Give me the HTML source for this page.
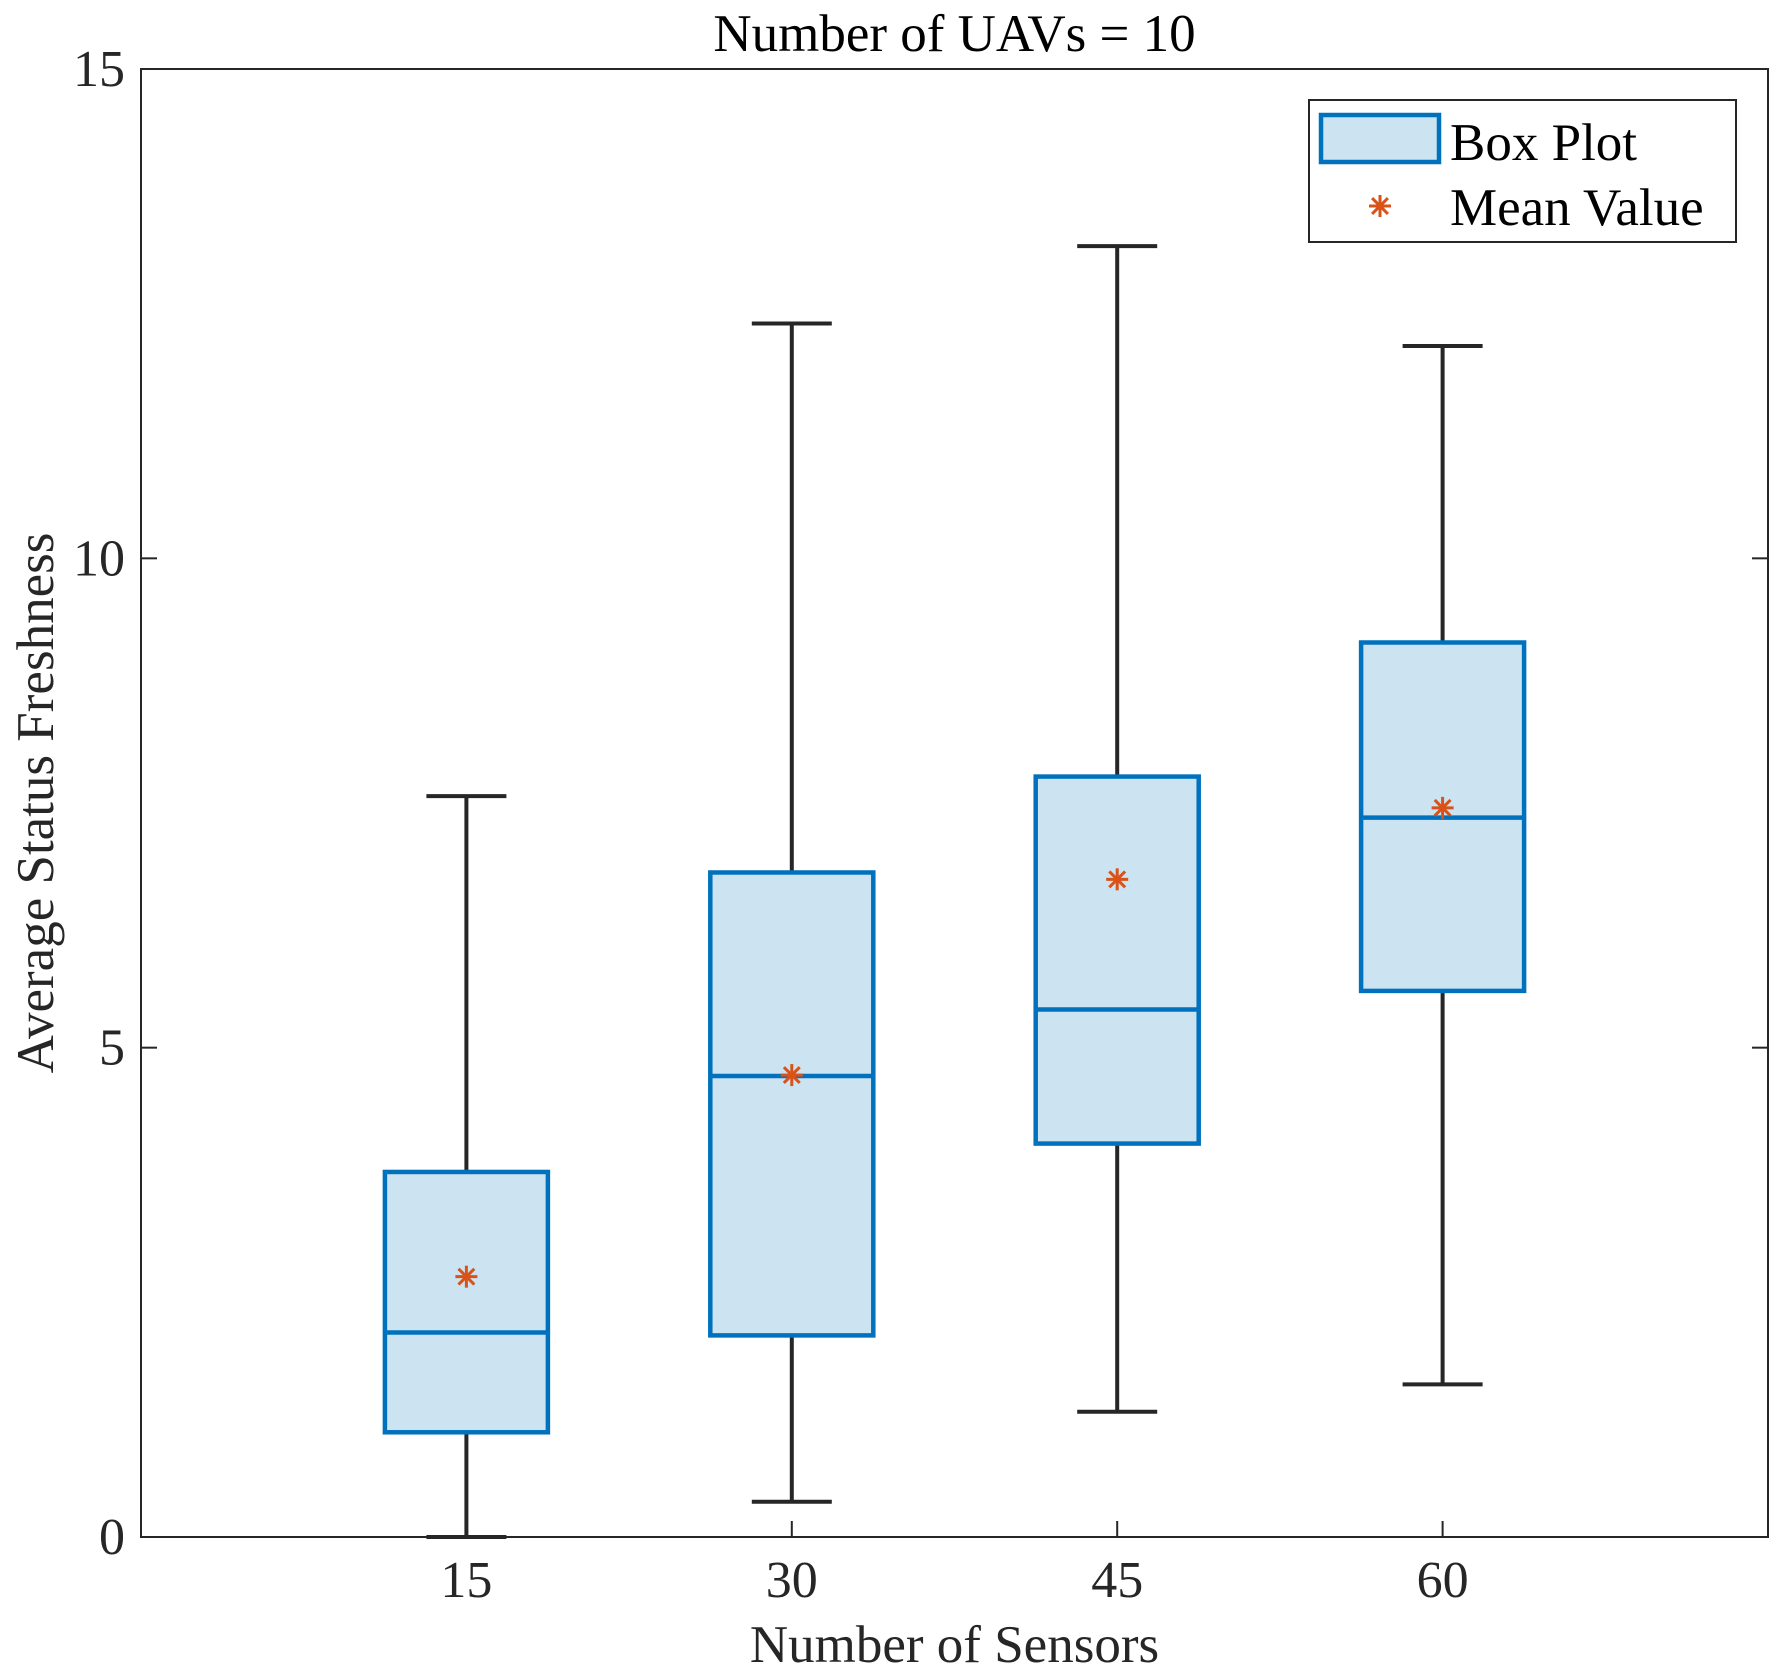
<!DOCTYPE html>
<html><head><meta charset="utf-8"><style>
body{margin:0;background:#fff}
svg{display:block;font-family:"Liberation Serif","Times New Roman",serif}
</style></head><body>
<svg id="chart" width="1790" height="1678" viewBox="0 0 1790 1678" xmlns="http://www.w3.org/2000/svg">
<rect width="1790" height="1678" fill="#fff"/>
<g id="plot"></g>
</svg>
<script>
const categories = ["15","30","45","60"];
const whiskerHigh = [7.57,12.40,13.19,12.17];
const q3Values = [3.73,6.79,7.77,9.14];
const medianValues = [2.09,4.71,5.39,7.35];
const q1Values = [1.07,2.06,4.02,5.58];
const whiskerLow = [0,0.36,1.28,1.56];
const meanValues = [2.66,4.72,6.72,7.45];
const yTicks = [0,5,10,15];

const L=141,R=1768,T=69,B=1537;
const sx=i=>L+(i+1)*(R-L)/5;
const sy=v=>B-(v/15)*(B-T);
const NS="http://www.w3.org/2000/svg";
const g=document.getElementById('plot');
function mk(tag,attrs,parent){const e=document.createElementNS(NS,tag);for(const k in attrs)e.setAttribute(k,attrs[k]);(parent||g).appendChild(e);return e;}
function star(cx,cy,r){
  const s=mk('g',{stroke:'#D95319','stroke-width':3});
  mk('line',{x1:cx-r,x2:cx+r,y1:cy,y2:cy},s);
  mk('line',{x1:cx,x2:cx,y1:cy-r,y2:cy+r},s);
  const d=r*0.72;
  mk('line',{x1:cx-d,x2:cx+d,y1:cy-d,y2:cy+d},s);
  mk('line',{x1:cx-d,x2:cx+d,y1:cy+d,y2:cy-d},s);
  return s;
}

let ax=mk('rect',{x:L,y:T,width:R-L,height:B-T,fill:'none',stroke:'#262626','stroke-width':2});



yTicks.forEach(v=>{
  const y=sy(v);
  let t=mk('line',{x1:L,x2:L+16,y1:y,y2:y,stroke:'#262626','stroke-width':2});
  
  
  let t2=mk('line',{x1:R-16,x2:R,y1:y,y2:y,stroke:'#262626','stroke-width':2});
  
  
  let tx=mk('text',{x:L-16,y:y+17,'text-anchor':'end','font-size':52,fill:'#262626'});
  tx.textContent=v;
  
  
});

categories.forEach((c,i)=>{
  const x=sx(i);
  let t=mk('line',{x1:x,x2:x,y1:B,y2:B-16,stroke:'#262626','stroke-width':2});
  
  
  let tx=mk('text',{x:x,y:1597,'text-anchor':'middle','font-size':52,fill:'#262626'});
  tx.textContent=c;
  
  

  const hw=81.5, cw=40;
  let w1=mk('line',{x1:x,x2:x,y1:sy(whiskerHigh[i]),y2:sy(q3Values[i]),stroke:'#262626','stroke-width':4});
  
  
  let w2=mk('line',{x1:x,x2:x,y1:sy(q1Values[i]),y2:sy(whiskerLow[i]),stroke:'#262626','stroke-width':4});
  
  
  let c1=mk('line',{x1:x-cw,x2:x+cw,y1:sy(whiskerHigh[i]),y2:sy(whiskerHigh[i]),stroke:'#262626','stroke-width':4});
  
  
  let c2=mk('line',{x1:x-cw,x2:x+cw,y1:sy(whiskerLow[i]),y2:sy(whiskerLow[i]),stroke:'#262626','stroke-width':4});
  
  
  let bx=mk('rect',{x:x-hw,y:sy(q3Values[i]),width:2*hw,height:sy(q1Values[i])-sy(q3Values[i]),fill:'#CCE3F1',stroke:'#0072BD','stroke-width':4.5});
  
  
  let md=mk('line',{x1:x-hw,x2:x+hw,y1:sy(medianValues[i]),y2:sy(medianValues[i]),stroke:'#0072BD','stroke-width':4.5});
  
  
  let mt=star(x,sy(meanValues[i]),11);
  
  
});

let title=mk('text',{x:(L+R)/2,y:51,'text-anchor':'middle','font-size':53,fill:'#000'});
title.textContent='Number of UAVs = 10';


let xl=mk('text',{x:(L+R)/2,y:1662,'text-anchor':'middle','font-size':53,fill:'#262626'});
xl.textContent='Number of Sensors';


let yl=mk('text',{x:0,y:0,'text-anchor':'middle','font-size':53,fill:'#262626',transform:`translate(53,${(T+B)/2}) rotate(-90)`});
yl.textContent='Average Status Freshness';



let lg=mk('rect',{x:1309,y:100,width:427,height:142,fill:'#fff',stroke:'#262626','stroke-width':2});


let ls=mk('rect',{x:1321,y:115,width:118,height:47,fill:'#CCE3F1',stroke:'#0072BD','stroke-width':4.5});


let lt1=mk('text',{x:1450,y:160,'font-size':53,fill:'#000'});
lt1.textContent='Box Plot';


let lm=star(1380,206,11);


let lt2=mk('text',{x:1450,y:225,'font-size':53,fill:'#000'});
lt2.textContent='Mean Value';


</script>
</body></html>
